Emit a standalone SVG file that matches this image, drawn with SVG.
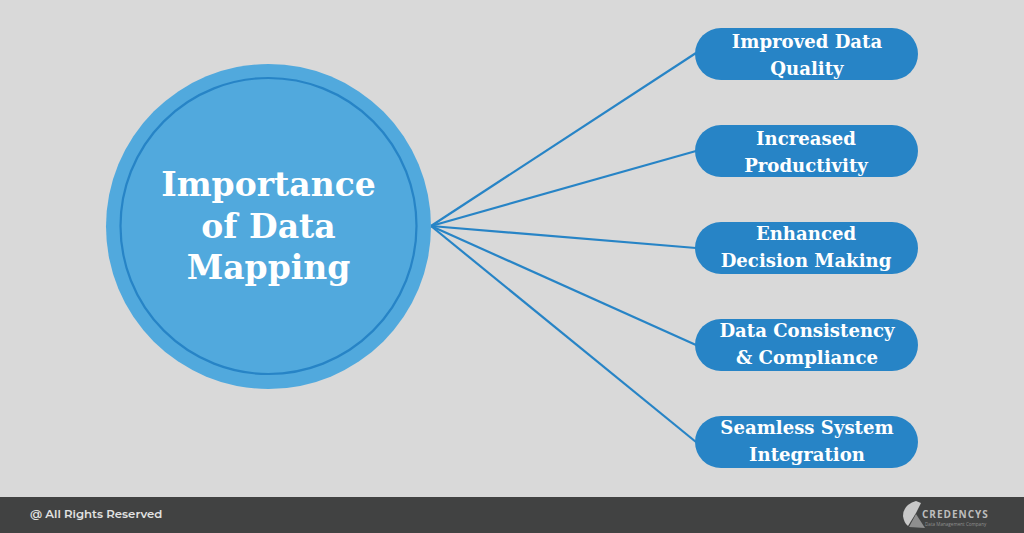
<svg xmlns="http://www.w3.org/2000/svg" width="1024" height="533" viewBox="0 0 1024 533">
<style>
.pill{fill:#2784c6}
.pt{font-family:"DejaVu Serif",serif;font-weight:700;font-size:18.100px;fill:#fff;text-anchor:middle}
.ct{font-family:"DejaVu Serif",serif;font-weight:700;font-size:33px;fill:#fff;text-anchor:middle}
.c{stroke:#2784c6;stroke-width:2.2;fill:none}
</style>
<rect width="1024" height="533" fill="#d9d9d9"/>
<g id="connectors">
<line class="c" x1="431" y1="226" x2="696" y2="53"/>
<line class="c" x1="431" y1="226" x2="696" y2="151"/>
<line class="c" x1="431" y1="226" x2="696" y2="248"/>
<line class="c" x1="431" y1="226" x2="696" y2="345"/>
<line class="c" x1="431" y1="226" x2="696" y2="442"/>
</g>
<g id="hub">
<circle cx="268.500" cy="226.500" r="162.500" fill="#51a9dd"/>
<circle cx="268.500" cy="226" r="148" fill="none" stroke="#2784c6" stroke-width="2.200"/>
<text class="ct" x="268.500" y="196">Importance</text>
<text class="ct" x="268.500" y="238">of Data</text>
<text class="ct" x="268.500" y="279">Mapping</text>
</g>
<g id="n1"><rect class="pill" x="695" y="28" width="223" height="52" rx="26"/><text class="pt" x="807" y="48">Improved Data</text><text class="pt" x="807" y="75">Quality</text></g>
<g id="n2"><rect class="pill" x="695" y="125" width="223" height="52" rx="26"/><text class="pt" x="806" y="145">Increased</text><text class="pt" x="806" y="172">Productivity</text></g>
<g id="n3"><rect class="pill" x="695" y="222" width="223" height="52" rx="26"/><text class="pt" x="806" y="240">Enhanced</text><text class="pt" x="806" y="267">Decision Making</text></g>
<g id="n4"><rect class="pill" x="695" y="319" width="223" height="52" rx="26"/><text class="pt" x="807" y="337">Data Consistency</text><text class="pt" x="807" y="364">&amp; Compliance</text></g>
<g id="n5"><rect class="pill" x="695" y="416" width="223" height="52" rx="26"/><text class="pt" x="807" y="434">Seamless System</text><text class="pt" x="807" y="461">Integration</text></g>
<g id="footer">
<rect y="497" width="1024" height="36" fill="#414242"/>
<text x="30" y="518" font-family="Montserrat,'Open Sans','Noto Sans',sans-serif" font-size="11.700" font-weight="600" fill="#e2e2e2">@ All Rights Reserved</text>
<path d="M921 503 L916 501 Q903 505 903 516 Q904 523 908 526 L916 513 Z" fill="#c8c8c8"/>
<path d="M916 514 L925 528 L909 527 Z" fill="#8e8e8e"/>
<text x="922" y="518" font-family="'Open Sans','Liberation Sans',sans-serif" font-size="10" font-weight="700" letter-spacing="1" fill="#bdbdbd">CREDENCYS</text>
<text x="925" y="526" font-family="'Open Sans','Liberation Sans',sans-serif" font-size="4.600" fill="#8f8f8f">Data Management Company</text>
</g>
</svg>
